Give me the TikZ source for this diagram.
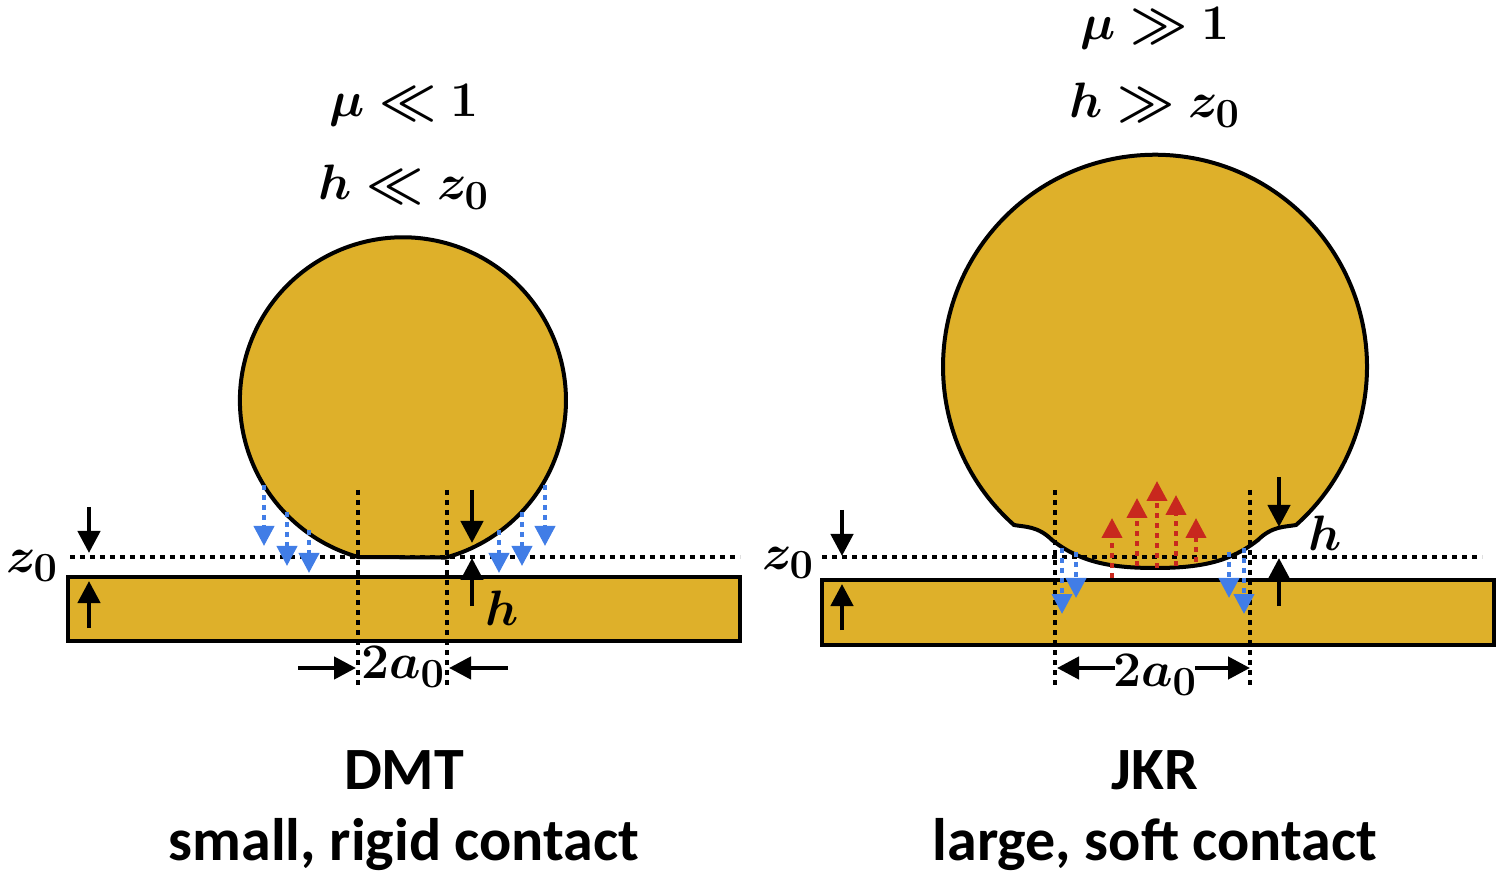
\documentclass[tikz,border=0pt]{standalone}
\usepackage{fontspec}
\setmainfont{Carlito}
\usepackage{amsmath,amssymb,bm}
\usetikzlibrary{arrows.meta}
\definecolor{gold}{RGB}{222,176,42}
\definecolor{blu}{RGB}{65,125,230}
\definecolor{rd}{RGB}{200,40,30}
\tikzset{
  body/.style={draw=black,line width=2pt,fill=gold},
  dotl/.style={line width=2pt,dash pattern=on 2.5pt off 2.5pt},
  blk/.style={line width=2.2pt,-{Triangle[width=11pt,length=11pt]}},
  bluarr/.style={blu,line width=2pt,dash pattern=on 2.5pt off 2.5pt,-{Triangle[width=10pt,length=10pt]}},
  redarr/.style={rd,line width=2pt,dash pattern=on 2.5pt off 2.5pt,-{Triangle[width=10pt,length=10pt]}},
  lab/.style={font=\fontsize{30}{34}\selectfont\bfseries},
  mlab/.style={inner sep=0pt,font=\fontsize{28}{32}\selectfont},
}
\begin{document}
\begin{tikzpicture}[x=0.5pt,y=-0.5pt]
\useasboundingbox (0,0) rectangle (1500,887);
% ---------- left (DMT)
\node[mlab] (m1) at (404,105) {$\bm{\mu \ll 1}$};
\node[mlab] (h1) at (404,187) {$\bm{h \ll z_0}$};
\draw[body] (68,577) rectangle (740,641);
\draw[body] (358,557) arc[start angle=106,end angle=434.7,radius=163] -- cycle;
\draw[dotl] (70,557) -- (740,557);
\draw[dotl] (358,490) -- (358,685);
\draw[dotl] (447,490) -- (447,685);
\coordinate (za1) at (89,507); \coordinate (zb1) at (89,553);
\coordinate (zc1) at (89,628); \coordinate (zd1) at (89,581);
\draw[blk] (za1) -- (zb1); \draw[blk] (zc1) -- (zd1);
\node[mlab] (z1) at (32,566) {$\bm{z_0}$};
\coordinate (ha1) at (472,490); \coordinate (hb1) at (472,543);
\coordinate (hc1) at (472,606); \coordinate (hd1) at (472,558);
\draw[blk] (ha1) -- (hb1); \draw[blk] (hc1) -- (hd1);
\node[mlab] (hl1) at (502,608) {$\bm{h}$};
\node[mlab] (a1) at (403,667) {$\bm{2a_0}$};
\coordinate (aa1) at (298,668); \coordinate (ab1) at (356,668);
\coordinate (ac1) at (508,668); \coordinate (ad1) at (449,668);
\draw[blk] (aa1) -- (ab1); \draw[blk] (ac1) -- (ad1);
\foreach \x/\a/\b in {264/485/546, 287/512/566, 309/530/573, 499/530/573, 522/512/566, 545/485/546}
  \draw[bluarr] (\x,\a) -- (\x,\b);
\node[lab] (d1) at (404,770) {DMT};
\node[lab] (d2) at (404,845) {small, rigid contact};
% ---------- right (JKR)
\node[mlab] (m2) at (1155,28) {$\bm{\mu \gg 1}$};
\node[mlab] (h2) at (1155,105) {$\bm{h \gg z_0}$};
\draw[body] (822,580) rectangle (1494,645);
\draw[body] (1014,525) arc[start angle=131.7,end angle=408.3,radius=212]
  .. controls (1285,527) and (1272,526) .. (1258,540)
  .. controls (1230,562) and (1200,568) .. (1155,568)
  .. controls (1110,568) and (1080,562) .. (1052,540)
  .. controls (1038,526) and (1025,527) .. (1014,525) -- cycle;
\draw[dotl] (822,557) -- (1482,557);
\draw[dotl] (1055,490) -- (1055,685);
\draw[dotl] (1250,490) -- (1250,685);
\coordinate (za2) at (842,510); \coordinate (zb2) at (842,556);
\coordinate (zc2) at (842,630); \coordinate (zd2) at (842,584);
\draw[blk] (za2) -- (zb2); \draw[blk] (zc2) -- (zd2);
\node[mlab] (z2) at (788,563) {$\bm{z_0}$};
\coordinate (ha2) at (1279,477); \coordinate (hb2) at (1279,527);
\coordinate (hc2) at (1279,606); \coordinate (hd2) at (1279,558);
\draw[blk] (ha2) -- (hb2); \draw[blk] (hc2) -- (hd2);
\node[mlab] (hl2) at (1325,533) {$\bm{h}$};
\node[mlab] (a2) at (1155,675) {$\bm{2a_0}$};
\coordinate (aa2) at (1115,668); \coordinate (ab2) at (1057,668);
\coordinate (ac2) at (1195,668); \coordinate (ad2) at (1250,668);
\draw[blk] (aa2) -- (ab2); \draw[blk] (ac2) -- (ad2);
\foreach \x/\a/\b in {1112/578/518, 1137/566/498, 1157/568/481, 1176/566/495, 1196/562/518}
  \draw[redarr] (\x,\a) -- (\x,\b);
\foreach \x/\a/\b in {1062/548/614, 1076/552/598, 1229/552/598, 1244/548/614}
  \draw[bluarr] (\x,\a) -- (\x,\b);
\node[lab] (j1) at (1155,770) {JKR};
\node[lab] (j2) at (1155,845) {large, soft contact};
\end{tikzpicture}
\end{document}
